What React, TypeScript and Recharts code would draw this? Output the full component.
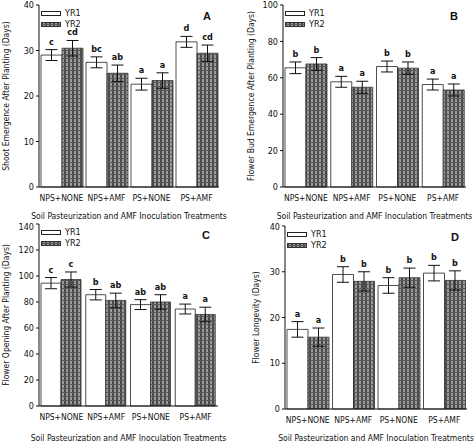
import React from "react";
import { Bar, BarChart, ErrorBar, LabelList, XAxis, YAxis } from "recharts";

const FONT = "'Liberation Sans Narrow', 'DejaVu Sans Condensed', 'Liberation Sans', Arial, sans-serif";
const INK = "#111";

const TREATMENTS = ["NPS+NONE", "NPS+AMF", "PS+NONE", "PS+AMF"];
const X_TITLE = "Soil Pasteurization and AMF Inoculation Treatments";

// Panel A – shoot emergence
const A_YR1 = [29.0, 27.4, 22.6, 31.9];
const A_YR1_ERR = [1.2, 1.2, 1.3, 1.2];
const A_YR2 = [30.5, 25.0, 23.4, 29.4];
const A_YR2_ERR = [1.7, 1.8, 1.7, 1.8];
const A_YR1_LETTERS = ["c", "bc", "a", "d"];
const A_YR2_LETTERS = ["cd", "ab", "a", "cd"];
const A_TICKS = [0, 10, 20, 30, 40];

// Panel B – flower bud emergence
const B_YR1 = [65.5, 57.8, 66.2, 56.3];
const B_YR1_ERR = [3.2, 3.0, 3.0, 3.0];
const B_YR2 = [67.6, 54.8, 65.3, 53.3];
const B_YR2_ERR = [3.5, 3.3, 3.4, 3.3];
const B_YR1_LETTERS = ["b", "a", "b", "a"];
const B_YR2_LETTERS = ["b", "a", "b", "a"];
const B_TICKS = [0, 20, 40, 60, 80, 100];

// Panel C – flower opening
const C_YR1 = [94.5, 85.6, 78.0, 74.6];
const C_YR1_ERR = [4.3, 4.0, 3.8, 3.8];
const C_YR2 = [97.3, 81.2, 80.0, 70.4];
const C_YR2_ERR = [5.8, 5.6, 5.6, 5.6];
const C_YR1_LETTERS = ["c", "b", "ab", "a"];
const C_YR2_LETTERS = ["c", "ab", "ab", "a"];
const C_TICKS = [0, 20, 40, 60, 80, 100, 120, 140];

// Panel D – flower longevity
const D_YR1 = [17.4, 29.4, 27.0, 29.7];
const D_YR1_ERR = [1.7, 1.7, 1.7, 1.7];
const D_YR2 = [15.7, 27.9, 28.7, 28.1];
const D_YR2_ERR = [2.0, 2.1, 2.1, 2.1];
const D_YR1_LETTERS = ["a", "b", "b", "b"];
const D_YR2_LETTERS = ["a", "b", "b", "b"];
const D_TICKS = [0, 10, 20, 30, 40];

function buildRows(yr1: number[], e1: number[], yr2: number[], e2: number[]) {
  return TREATMENTS.map((t, i) => ({
    treatment: t,
    yr1: yr1[i],
    yr1Err: e1[i],
    yr2: yr2[i],
    yr2Err: e2[i],
  }));
}

function makeLetter(errs: number[], letters: string[]) {
  return (props: any) => {
    const { x, y, width, height, value, index } = props;
    const per = value ? height / value : 0;
    const top = y - errs[index] * per;
    return (
      <text
        x={x + width / 2}
        y={top - 5}
        textAnchor="middle"
        fontFamily={FONT}
        fontSize={9}
        fontWeight="bold"
        fill={INK}
      >
        {letters[index]}
      </text>
    );
  };
}

function LegendBox({ pid }: { pid: string }) {
  const row = { display: "flex", alignItems: "center", height: 11 } as const;
  return (
    <div style={{ fontFamily: FONT, fontSize: 9, color: INK, lineHeight: "11px" }}>
      <div style={row}>
        <svg width={20} height={5} style={{ marginRight: 4 }}>
          <rect x={0.5} y={0.5} width={19} height={4} fill="#fff" stroke="#222" />
        </svg>
        YR1
      </div>
      <div style={row}>
        <svg width={20} height={5} style={{ marginRight: 4 }}>
          <rect x={0.5} y={0.5} width={19} height={4} fill={`url(#${pid})`} stroke="#333" />
        </svg>
        YR2
      </div>
    </div>
  );
}

interface PanelProps {
  id: string;
  letter: string;
  yTitle: string;
  titleOffset: number;
  ticks: number[];
  yr1: number[];
  yr1Err: number[];
  yr2: number[];
  yr2Err: number[];
  yr1Letters: string[];
  yr2Letters: string[];
  left: number;
  top: number;
  margin: { top: number; right: number; left: number; bottom: number };
  yWidth: number;
  xHeight: number;
}

function Panel(p: PanelProps) {
  const pid = `hatch${p.id}`;
  const max = p.ticks[p.ticks.length - 1];
  const rows = buildRows(p.yr1, p.yr1Err, p.yr2, p.yr2Err);
  return (
    <div style={{ position: "absolute", left: p.left, top: p.top, width: 237, height: 223 }}>
      <BarChart width={237} height={223} data={rows} margin={p.margin} barGap={0} barCategoryGap={2}>
        <defs>
          <pattern id={pid} width={4} height={4} patternUnits="userSpaceOnUse">
            <rect width={4} height={4} fill="#9a9a9a" />
            <rect width={2} height={4} fill="#4a4a4a" />
            <rect y={2} width={4} height={1} fill="#5a5a5a" />
          </pattern>
        </defs>
        <XAxis
          dataKey="treatment"
          tickLine={false}
          axisLine={{ stroke: INK }}
          height={p.xHeight}
          interval={0}
          tick={{ fontSize: 8.5, fill: INK, fontFamily: FONT }}
          label={{
            value: X_TITLE,
            position: "insideBottom",
            offset: 4,
            style: { fontSize: 8.5, fill: INK, fontFamily: FONT },
          }}
        />
        <XAxis xAxisId="top" orientation="top" dataKey="treatment" tick={false} tickLine={false} axisLine={{ stroke: INK }} height={0} />
        <YAxis
          domain={[0, max]}
          ticks={p.ticks}
          width={p.yWidth}
          tickSize={3}
          tickLine={{ stroke: INK }}
          axisLine={{ stroke: INK }}
          tick={{ fontSize: 9, fill: INK, fontFamily: FONT }}
          label={{
            value: p.yTitle,
            angle: -90,
            position: "insideLeft",
            offset: p.titleOffset,
            style: { textAnchor: "middle", fontSize: 8.5, fill: INK, fontFamily: FONT },
          }}
        />
        <YAxis yAxisId="right" orientation="right" domain={[0, max]} tick={false} tickLine={false} axisLine={{ stroke: INK }} width={0} />
        <Bar dataKey="yr1" fill="#fff" stroke="#222" strokeWidth={0.8} isAnimationActive={false}>
          <ErrorBar dataKey="yr1Err" width={6} stroke={INK} strokeWidth={1} />
          <LabelList dataKey="yr1" content={makeLetter(p.yr1Err, p.yr1Letters)} />
        </Bar>
        <Bar dataKey="yr2" fill={`url(#${pid})`} stroke="#333" strokeWidth={0.8} isAnimationActive={false}>
          <ErrorBar dataKey="yr2Err" width={6} stroke={INK} strokeWidth={1} />
          <LabelList dataKey="yr2" content={makeLetter(p.yr2Err, p.yr2Letters)} />
        </Bar>
      </BarChart>
      <div style={{ position: "absolute", top: p.margin.top + 3, left: p.margin.left + p.yWidth + 2 }}>
        <LegendBox pid={pid} />
      </div>
      <div
        style={{
          position: "absolute",
          top: p.margin.top + 5,
          left: 237 - p.margin.right - 16,
          fontFamily: "'Liberation Sans', Arial, sans-serif",
          fontWeight: "bold",
          fontSize: 11,
          color: INK,
        }}
      >
        {p.letter}
      </div>
    </div>
  );
}

export default function App() {
  return (
    <div style={{ position: "absolute", left: 0, top: 0, width: 474, height: 445, background: "#fff" }}>
      <Panel
        id="A"
        letter="A"
        yTitle="Shoot Emergence After Planting (Days)"
        titleOffset={6}
        ticks={A_TICKS}
        yr1={A_YR1}
        yr1Err={A_YR1_ERR}
        yr2={A_YR2}
        yr2Err={A_YR2_ERR}
        yr1Letters={A_YR1_LETTERS}
        yr2Letters={A_YR2_LETTERS}
        left={0}
        top={0}
        margin={{ top: 5, right: 18, left: 0, bottom: 0 }}
        yWidth={39}
        xHeight={36}
      />
      <Panel
        id="B"
        letter="B"
        yTitle="Flower Bud Emergence After Planting (Days)"
        titleOffset={6}
        ticks={B_TICKS}
        yr1={B_YR1}
        yr1Err={B_YR1_ERR}
        yr2={B_YR2}
        yr2Err={B_YR2_ERR}
        yr1Letters={B_YR1_LETTERS}
        yr2Letters={B_YR2_LETTERS}
        left={237}
        top={0}
        margin={{ top: 5, right: 8, left: 8, bottom: 0 }}
        yWidth={38}
        xHeight={36}
      />
      <Panel
        id="C"
        letter="C"
        yTitle="Flower Opening After Planting (Days)"
        titleOffset={6}
        ticks={C_TICKS}
        yr1={C_YR1}
        yr1Err={C_YR1_ERR}
        yr2={C_YR2}
        yr2Err={C_YR2_ERR}
        yr1Letters={C_YR1_LETTERS}
        yr2Letters={C_YR2_LETTERS}
        left={0}
        top={222}
        margin={{ top: 2, right: 19, left: 0, bottom: 0 }}
        yWidth={39}
        xHeight={39}
      />
      <Panel
        id="D"
        letter="D"
        yTitle="Flower Longevity (Days)"
        titleOffset={9}
        ticks={D_TICKS}
        yr1={D_YR1}
        yr1Err={D_YR1_ERR}
        yr2={D_YR2}
        yr2Err={D_YR2_ERR}
        yr1Letters={D_YR1_LETTERS}
        yr2Letters={D_YR2_LETTERS}
        left={237}
        top={222}
        margin={{ top: 4, right: 7, left: 10, bottom: 0 }}
        yWidth={38}
        xHeight={36}
      />
    </div>
  );
}
